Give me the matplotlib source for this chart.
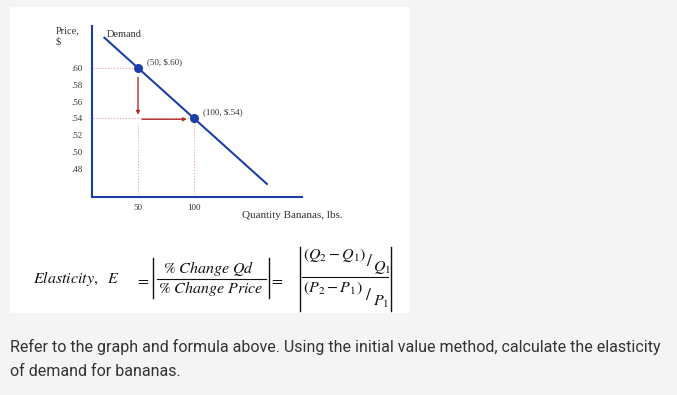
import matplotlib.pyplot as plt
import matplotlib.patches as mpatches

plt.switch_backend('agg')
plt.rcParams['mathtext.fontset'] = 'stix'

# chart data
quantity_pts = [50, 100]
price_pts = [0.60, 0.54]
point_labels = [r'(50, \$.60)', r'(100, \$.54)']
demand_q = [20, 165]
demand_p = [0.636, 0.462]
price_ticks = [0.60, 0.58, 0.56, 0.54, 0.52, 0.50, 0.48]
price_tick_labels = ['.60', '.58', '.56', '.54', '.52', '.50', '.48']
qty_ticks = [50, 100]
qty_tick_labels = ['50', '100']

question = ('Refer to the graph and formula above. Using the initial value method, calculate the elasticity\n'
            'of demand for bananas.')

W, H = 677, 395
BLUE = '#1b3fa6'
RED = '#b02a2a'
GUIDE = '#e3a3a3'
SERIF = 'Liberation Serif'
INK = '#111111'

fig = plt.figure(figsize=(W / 100, H / 100), dpi=100)
fig.patch.set_facecolor('#f4f4f4')

# overlay in pixel coordinates
bg = fig.add_axes([0, 0, 1, 1], zorder=0)
bg.set_xlim(0, W)
bg.set_ylim(H, 0)
bg.axis('off')
bg.add_patch(mpatches.Rectangle((10, 7), 400, 306, facecolor='white', edgecolor='none'))

# chart axes, left=92px right=302px top=26px bottom=197px
ax = fig.add_axes([92 / W, (H - 197) / H, 210 / W, 171 / H], zorder=1)
ax.patch.set_alpha(0)
ax.set_xlim(8.9, 196.4)
ax.set_ylim(0.4464, 0.65)
for s in ['top', 'right']:
    ax.spines[s].set_visible(False)
for s in ['left', 'bottom']:
    ax.spines[s].set_color(BLUE)
    ax.spines[s].set_linewidth(1.5)

ax.set_yticks(price_ticks)
ax.set_yticklabels(price_tick_labels, fontsize=6.5, family=SERIF, color='#333333')
ax.set_xticks(qty_ticks)
ax.set_xticklabels(qty_tick_labels, fontsize=6.5, family=SERIF, color='#333333')
ax.tick_params(axis='y', length=0, pad=7)
ax.tick_params(axis='x', length=0, pad=5)

# dotted guides
for q, p in zip(quantity_pts, price_pts):
    ax.plot([10, q - 4], [p, p], color=GUIDE, lw=0.8, ls=':')
ax.plot([50, 50], [0.4464, 0.535], color=GUIDE, lw=0.8, ls=':')
ax.plot([100, 100], [0.4464, 0.536], color=GUIDE, lw=0.8, ls=':')

# demand curve and points
ax.plot(demand_q, demand_p, color=BLUE, lw=1.5)
ax.scatter(quantity_pts, price_pts, s=30, color=BLUE, zorder=5)
ax.text(58, 0.605, point_labels[0], fontsize=6.5, family=SERIF, color='#333333')
ax.text(108, 0.545, point_labels[1], fontsize=6.5, family=SERIF, color='#333333')
ax.text(22, 0.637, 'Demand', fontsize=7.5, family=SERIF, color='#333333')

# red arrows
ax.annotate('', xy=(50, 0.541), xytext=(50, 0.592),
            arrowprops=dict(arrowstyle='-|>', color=RED, lw=1, mutation_scale=5))
ax.annotate('', xy=(96, 0.539), xytext=(51, 0.539),
            arrowprops=dict(arrowstyle='-|>', color=RED, lw=1, mutation_scale=5))

# axis titles
bg.text(56, 36, 'Price,\n$', fontsize=7.5, family=SERIF, color='#333333',
        va='center', ha='left', linespacing=1.3)
bg.text(242, 215, 'Quantity Bananas, lbs.', fontsize=8, family=SERIF, color='#333333', va='center')

# formula, built from pieces
FS = 11.5
bg.text(33, 279, r'$Elasticity,\ \ E$', fontsize=FS, va='center', color=INK)
bg.text(142, 279, r'$=$', fontsize=FS, va='center', ha='center', color=INK)
bg.text(209, 268, r'$\%\ Change\ Qd$', fontsize=FS, va='center', ha='center', color=INK)
bg.text(211, 289, r'$\%\ Change\ Price$', fontsize=FS, va='center', ha='center', color=INK)
bg.plot([157, 266], [279, 279], color=INK, lw=0.8)
bg.plot([153, 153], [258, 298], color=INK, lw=1.0)
bg.plot([269, 269], [258, 298], color=INK, lw=1.0)
bg.text(276, 280, r'$=$', fontsize=FS, va='center', ha='center', color=INK)

bg.text(303, 255, r'$(Q_2-Q_1)$', fontsize=FS, va='center', ha='left', color=INK)
bg.text(366, 261, r'$/$', fontsize=FS + 1, va='center', ha='left', color=INK)
bg.text(373, 268, r'$Q_1$', fontsize=FS, va='center', ha='left', color=INK)
bg.plot([302, 388], [277, 277], color=INK, lw=0.8)
bg.text(303, 288, r'$(P_2-P_1)$', fontsize=FS, va='center', ha='left', color=INK)
bg.text(365, 295, r'$/$', fontsize=FS + 1, va='center', ha='left', color=INK)
bg.text(373, 302, r'$P_1$', fontsize=FS, va='center', ha='left', color=INK)
bg.plot([300, 300], [247, 311], color=INK, lw=1.0)
bg.plot([391, 391], [247, 311], color=INK, lw=1.0)

# question text
bg.text(10, 359, question, fontsize=11.5, family='Roboto', color='#333333',
        va='center', linespacing=1.72)

fig.savefig('out.png', dpi=100, facecolor=fig.get_facecolor())
